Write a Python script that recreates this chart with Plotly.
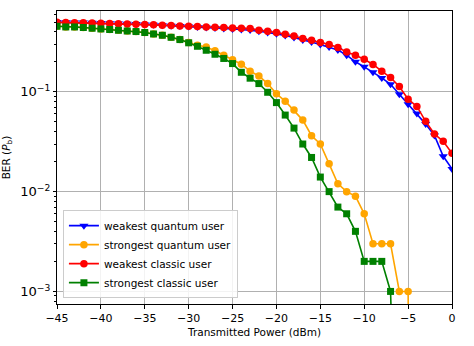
import numpy as np
import plotly.graph_objects as go

power_dbm = list(range(-45, 1))

weakest_quantum = [0.500, 0.498, 0.496, 0.494, 0.492, 0.490, 0.487, 0.484, 0.481, 0.477,
                   0.473, 0.469, 0.465, 0.460, 0.456, 0.451, 0.447, 0.442, 0.437, 0.432,
                   0.427, 0.422, 0.417,
                   0.405, 0.394, 0.382, 0.367, 0.351, 0.330, 0.316, 0.298, 0.282, 0.262,
                   0.233, 0.200, 0.178, 0.157, 0.138, 0.119, 0.0948, 0.0753, 0.0608,
                   0.0475, 0.0365, 0.0226, 0.0169]

strongest_quantum = [0.454, 0.447, 0.447, 0.441, 0.434, 0.427, 0.421, 0.414, 0.407, 0.402,
                     0.393, 0.380, 0.369, 0.352, 0.334, 0.312,
                     0.293, 0.282, 0.258, 0.233, 0.210, 0.189, 0.161, 0.144, 0.121,
                     0.0955, 0.0807, 0.0656, 0.0521, 0.0363, 0.030, 0.019, 0.012, 0.010,
                     0.009, 0.006, 0.003, 0.003, 0.003, 0.001, 0.001,
                     0, 0, 0, 0, 0]

weakest_classic = [0.497, 0.495, 0.493, 0.491, 0.489, 0.487, 0.485, 0.482, 0.479, 0.476,
                   0.473, 0.469, 0.466, 0.462, 0.458, 0.455, 0.451, 0.447, 0.443, 0.440,
                   0.437, 0.434, 0.430,
                   0.414, 0.404, 0.393, 0.378, 0.363, 0.342, 0.329, 0.312, 0.298, 0.278,
                   0.251, 0.233, 0.212, 0.188, 0.161, 0.139, 0.113, 0.0845, 0.0714,
                   0.0506, 0.0378, 0.0319, 0.0242]

strongest_classic = [0.454, 0.447, 0.447, 0.441, 0.434, 0.427, 0.421, 0.414, 0.407, 0.402,
                     0.393, 0.380, 0.369, 0.352, 0.334, 0.310, 0.286, 0.261, 0.238, 0.216,
                     0.192, 0.157, 0.137, 0.121,
                     0.099, 0.078, 0.0585, 0.0433, 0.030, 0.022, 0.014, 0.010, 0.007,
                     0.006, 0.004, 0.002, 0.002, 0.002, 0.001,
                     0, 0, 0, 0, 0, 0, 0]

x_ticks = [-45, -40, -35, -30, -25, -20, -15, -10, -5, 0]

series = [
    ("weakest quantum user", weakest_quantum, "#0000ff", "triangle-down", 8),
    ("strongest quantum user", strongest_quantum, "#ffa500", "circle", 7.5),
    ("weakest classic user", weakest_classic, "#ff0000", "circle", 7.5),
    ("strongest classic user", strongest_classic, "#008000", "square", 7),
]

FONT = "DejaVu Sans"
fig = go.Figure()
for name, vals, color, sym, size in series:
    v = np.array(vals, dtype=float)
    # emulate matplotlib's clipping of non-positive values on a log axis
    v = np.where(v > 0, v, 1e-12)
    fig.add_trace(go.Scatter(
        x=power_dbm, y=v, name=name, mode="lines+markers",
        line=dict(color=color, width=1.6),
        marker=dict(symbol=sym, size=size, color=color, line=dict(width=0)),
    ))

fig.update_layout(
    width=474, height=346,
    margin=dict(l=57, r=22, t=11, b=42),
    paper_bgcolor="white", plot_bgcolor="white",
    font=dict(family=FONT, size=11, color="black"),
    showlegend=True,
    legend=dict(x=0.015, y=0.02, xanchor="left", yanchor="bottom",
                bgcolor="rgba(255,255,255,0.85)", bordercolor="#cccccc", borderwidth=1,
                font=dict(family=FONT, size=10.5), tracegroupgap=0, itemwidth=30),
)
fig.update_xaxes(
    range=[-45, 0], tickvals=x_ticks, ticktext=[str(t).replace("-", "\u2212") for t in x_ticks],
    showgrid=True, gridcolor="#b0b0b0", gridwidth=0.8,
    showline=True, linecolor="black", linewidth=1, mirror=True,
    ticks="outside", ticklen=3.5, tickcolor="black", zeroline=False,
    automargin=False,
    title=dict(text="Transmitted Power (dBm)", standoff=4, font=dict(size=10.5)),
)
fig.update_yaxes(
    type="log", range=[-3.126, -0.19], dtick=1, exponentformat="power",
    showgrid=True, gridcolor="#b0b0b0", gridwidth=0.8,
    showline=True, linecolor="black", linewidth=1, mirror=True,
    ticks="outside", ticklen=3.5, tickcolor="black", zeroline=False,
    automargin=False, tickfont=dict(size=10.5),
    minor=dict(ticks="outside", ticklen=2, tickcolor="black", showgrid=False),
    title=dict(text="BER (<i>P</i><sub>b</sub>)", standoff=17, font=dict(size=10.5)),
)

fig.write_html("out.html")
